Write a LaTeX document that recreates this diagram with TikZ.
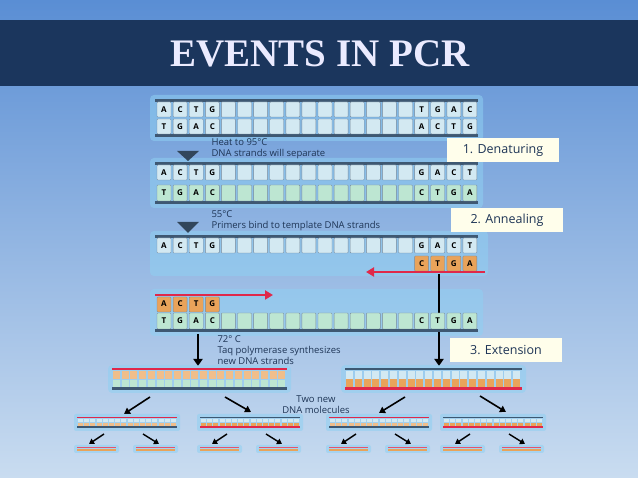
\documentclass[tikz,border=0pt]{standalone}
\usepackage{fontspec}
\setmainfont{Open Sans}
\newfontfamily\titlefont{Liberation Serif}
\usetikzlibrary{arrows.meta}
\definecolor{bgtop}{HTML}{5A8ED4}
\definecolor{bgbot}{HTML}{C9DCF0}
\definecolor{navy}{HTML}{1B365D}
\definecolor{bar}{HTML}{3E5872}
\definecolor{cellb}{HTML}{D3E9F2}
\definecolor{cellg}{HTML}{BDE6D2}
\definecolor{orng}{HTML}{E9A35A}
\definecolor{pred}{HTML}{E0284A}
\definecolor{txt}{HTML}{1E3556}
\definecolor{halo}{HTML}{8FD0F2}
\tikzset{
 cell/.style={draw=bar!70,line width=0.4pt,rounded corners=0.8pt},
 let/.style={font=\fontsize{8}{8}\selectfont\bfseries,text=black},
 lab/.style={font=\fontsize{9.5}{11}\selectfont,text=txt,align=left,anchor=west},
 stepbox/.style={fill=white!92!yellow,font=\fontsize{12.5}{12}\selectfont,text=txt,minimum width=112pt,minimum height=24pt},
 blk/.style={line width=2.2pt,-{Triangle[length=7pt,width=9pt]}},
 redarr/.style={pred,line width=2.4pt,-{Triangle[length=8pt,width=9pt]}},
 tri/.style={fill=bar!80!black},
 hl/.style={fill=halo,opacity=0.55,rounded corners=4pt}
}
\begin{document}
\begin{tikzpicture}[x=1pt,y=-1pt]
\useasboundingbox (0,0) rectangle (638,478);
\shade[top color=bgtop,bottom color=bgbot] (0,0) rectangle (638,478);
\fill[navy] (0,20) rectangle (638,86);
\node[font=\titlefont\fontsize{39}{39}\selectfont\bfseries,text=white!92!blue] (title) at (320,54) {EVENTS IN PCR};
% halos
\fill[hl] (150,95) rectangle (483,141);
\fill[hl] (150,158) rectangle (483,208);
\fill[hl] (150,231) rectangle (488,276);
\fill[hl] (150,289) rectangle (483,336);
% Row 1
\fill[bar] (155,99) rectangle (478,102);
\fill[bar] (155,134) rectangle (478,137);
\foreach \i in {0,...,19}{
 \pgfmathsetmacro\xx{157+\i*16.1}
 \draw[cell,fill=cellb] (\xx,102) rectangle ++(14,15);
 \draw[cell,fill=cellb] (\xx,119) rectangle ++(14,15);
}
\foreach \i/\a/\b in {0/A/T,1/C/G,2/T/A,3/G/C,16/T/A,17/G/C,18/A/T,19/C/G}{
 \pgfmathsetmacro\xx{164+\i*16.1}
 \node[let] at (\xx,110) {\a};
 \node[let] at (\xx,127) {\b};
}
% step 1 text
\fill[tri] (177,151) -- (199,151) -- (188,161) -- cycle;
\node[lab] (t1) at (208,149) {Heat to 95°C\\DNA strands will separate};
\node[stepbox] (s1) at (503,150) {1. Denaturing};
% Row 2
\fill[bar] (155,162) rectangle (478,165);
\fill[bar] (155,201) rectangle (478,204);
\foreach \i in {0,...,19}{
 \pgfmathsetmacro\xx{157+\i*16.1}
 \draw[cell,fill=cellb] (\xx,165) rectangle ++(14,15);
 \draw[cell,fill=cellg] (\xx,185) rectangle ++(14,16);
}
\foreach \i/\a/\b in {0/A/T,1/C/G,2/T/A,3/G/C,16/G/C,17/A/T,18/C/G,19/T/A}{
 \pgfmathsetmacro\xx{164+\i*16.1}
 \node[let] at (\xx,173) {\a};
 \node[let] at (\xx,193) {\b};
}
% step 2 text
\fill[tri] (177,222) -- (199,222) -- (188,233) -- cycle;
\node[lab] (t2) at (208,221) {55°C\\Primers bind to template DNA strands};
\node[stepbox] (s2) at (507,220) {2. Annealing};
% Row 3
\fill[bar] (155,235) rectangle (478,238);
\foreach \i in {0,...,19}{
 \pgfmathsetmacro\xx{157+\i*16.1}
 \draw[cell,fill=cellb] (\xx,238) rectangle ++(14,15);
}
\foreach \i/\a in {0/A,1/C,2/T,3/G,16/G,17/A,18/C,19/T}{
 \pgfmathsetmacro\xx{164+\i*16.1}
 \node[let] at (\xx,246) {\a};
}
\foreach \i/\b in {16/C,17/T,18/G,19/A}{
 \pgfmathsetmacro\xx{157+\i*16.1}
 \draw[cell,fill=orng] (\xx,256) rectangle ++(14,15);
 \node[let] at (\xx+7,264) {\b};
}
\coordinate (r3a) at (485,272);
\coordinate (r3b) at (366,272);
\draw[redarr] (r3a) -- (r3b);
\coordinate (v1) at (439,274);
\coordinate (v2) at (439,366);
\draw[blk] (v1) -- (v2);
% Row 4
\coordinate (r4a) at (155,295);
\coordinate (r4b) at (273,295);
\draw[redarr] (r4a) -- (r4b);
\foreach \i in {0,...,19}{
 \pgfmathsetmacro\xx{157+\i*16.1}
 \draw[cell,fill=cellg] (\xx,313) rectangle ++(14,16);
}
\foreach \i/\a/\b in {0/A/T,1/C/G,2/T/A,3/G/C}{
 \pgfmathsetmacro\xx{157+\i*16.1}
 \draw[cell,fill=orng] (\xx,297) rectangle ++(14,15);
 \node[let] at (\xx+7,304) {\a};
 \node[let] at (\xx+7,321) {\b};
}
\foreach \i/\b in {16/C,17/T,18/G,19/A}{
 \pgfmathsetmacro\xx{164+\i*16.1}
 \node[let] at (\xx,321) {\b};
}
\fill[bar] (155,329) rectangle (478,332);
\coordinate (d1) at (198,334);
\coordinate (d2) at (198,366);
\draw[blk] (d1) -- (d2);
\node[lab] (t3) at (214,350) {72° C\\Taq polymerase synthesizes\\new DNA strands};
\node[stepbox] (s3) at (506,350) {3. Extension};
% Row 5
\fill[hl] (108,365) rectangle (291,393);
\fill[hl] (341,365) rectangle (526,393);
\fill[pred] (112,368) rectangle (287,370.5);
\fill[bar] (112,387) rectangle (287,390);
\fill[bar] (345,368) rectangle (522,370.5);
\fill[pred] (345,387) rectangle (522,390);
\foreach \i in {0,...,19}{
 \pgfmathsetmacro\xx{113+\i*8.7}
 \fill[orng!70!white] (\xx,371) rectangle ++(7,8);
 \fill[cellg] (\xx,380) rectangle ++(7,7);
 \pgfmathsetmacro\yy{346+\i*8.8}
 \fill[cellb] (\yy,371) rectangle ++(7,8);
 \fill[orng] (\yy,379.5) rectangle ++(7,7.5);
}
\node[font=\fontsize{9.5}{11}\selectfont,text=txt,align=center] (t4) at (316,405) {Two new\\DNA molecules};
% arrows row5->row6
\foreach \a/\b/\c/\d in {150/397/124/414, 225/397/251/412, 405/397/379/413, 480/396/506/412}{
 \draw[line width=1.6pt,-{Triangle[length=6pt,width=7pt]}] (\a,\b) -- (\c,\d);
}
% Row 6
\foreach \x/\t/\bb/\bt in {77/pred/bar/orng!70!white, 200/bar/pred/orng, 329/pred/bar/orng!70!white, 443/bar/pred/orng}{
 \fill[hl,rounded corners=2pt] (\x-3,414) rectangle (\x+103,431);
 \fill[\t] (\x,417) rectangle (\x+100,418.5);
 \fill[\bb] (\x,426.5) rectangle (\x+100,428);
 \foreach \i in {0,...,15}{
  \fill[cellb] (\x+1+\i*6.2,419) rectangle ++(5,3.5);
  \fill[\bt] (\x+1+\i*6.2,423) rectangle ++(5,3.5);
 }
}
% arrows row6->row7 and row7
\foreach \x in {77,200,329,443}{
 \draw[line width=1.4pt,-{Triangle[length=5pt,width=6pt]}] (\x+27,434) -- (\x+12,444);
 \draw[line width=1.4pt,-{Triangle[length=5pt,width=6pt]}] (\x+66,434) -- (\x+82,444);
 \fill[hl,rounded corners=2pt] (\x-3,445) rectangle (\x+42,453);
 \fill[hl,rounded corners=2pt] (\x+56,445) rectangle (\x+101,453);
 \fill[pred!80] (\x,447) rectangle (\x+39,448.5);
 \fill[orng] (\x,449) rectangle (\x+39,451);
 \fill[pred!80] (\x+59,447) rectangle (\x+98,448.5);
 \fill[orng] (\x+59,449) rectangle (\x+98,451);
}
\end{tikzpicture}
\end{document}
